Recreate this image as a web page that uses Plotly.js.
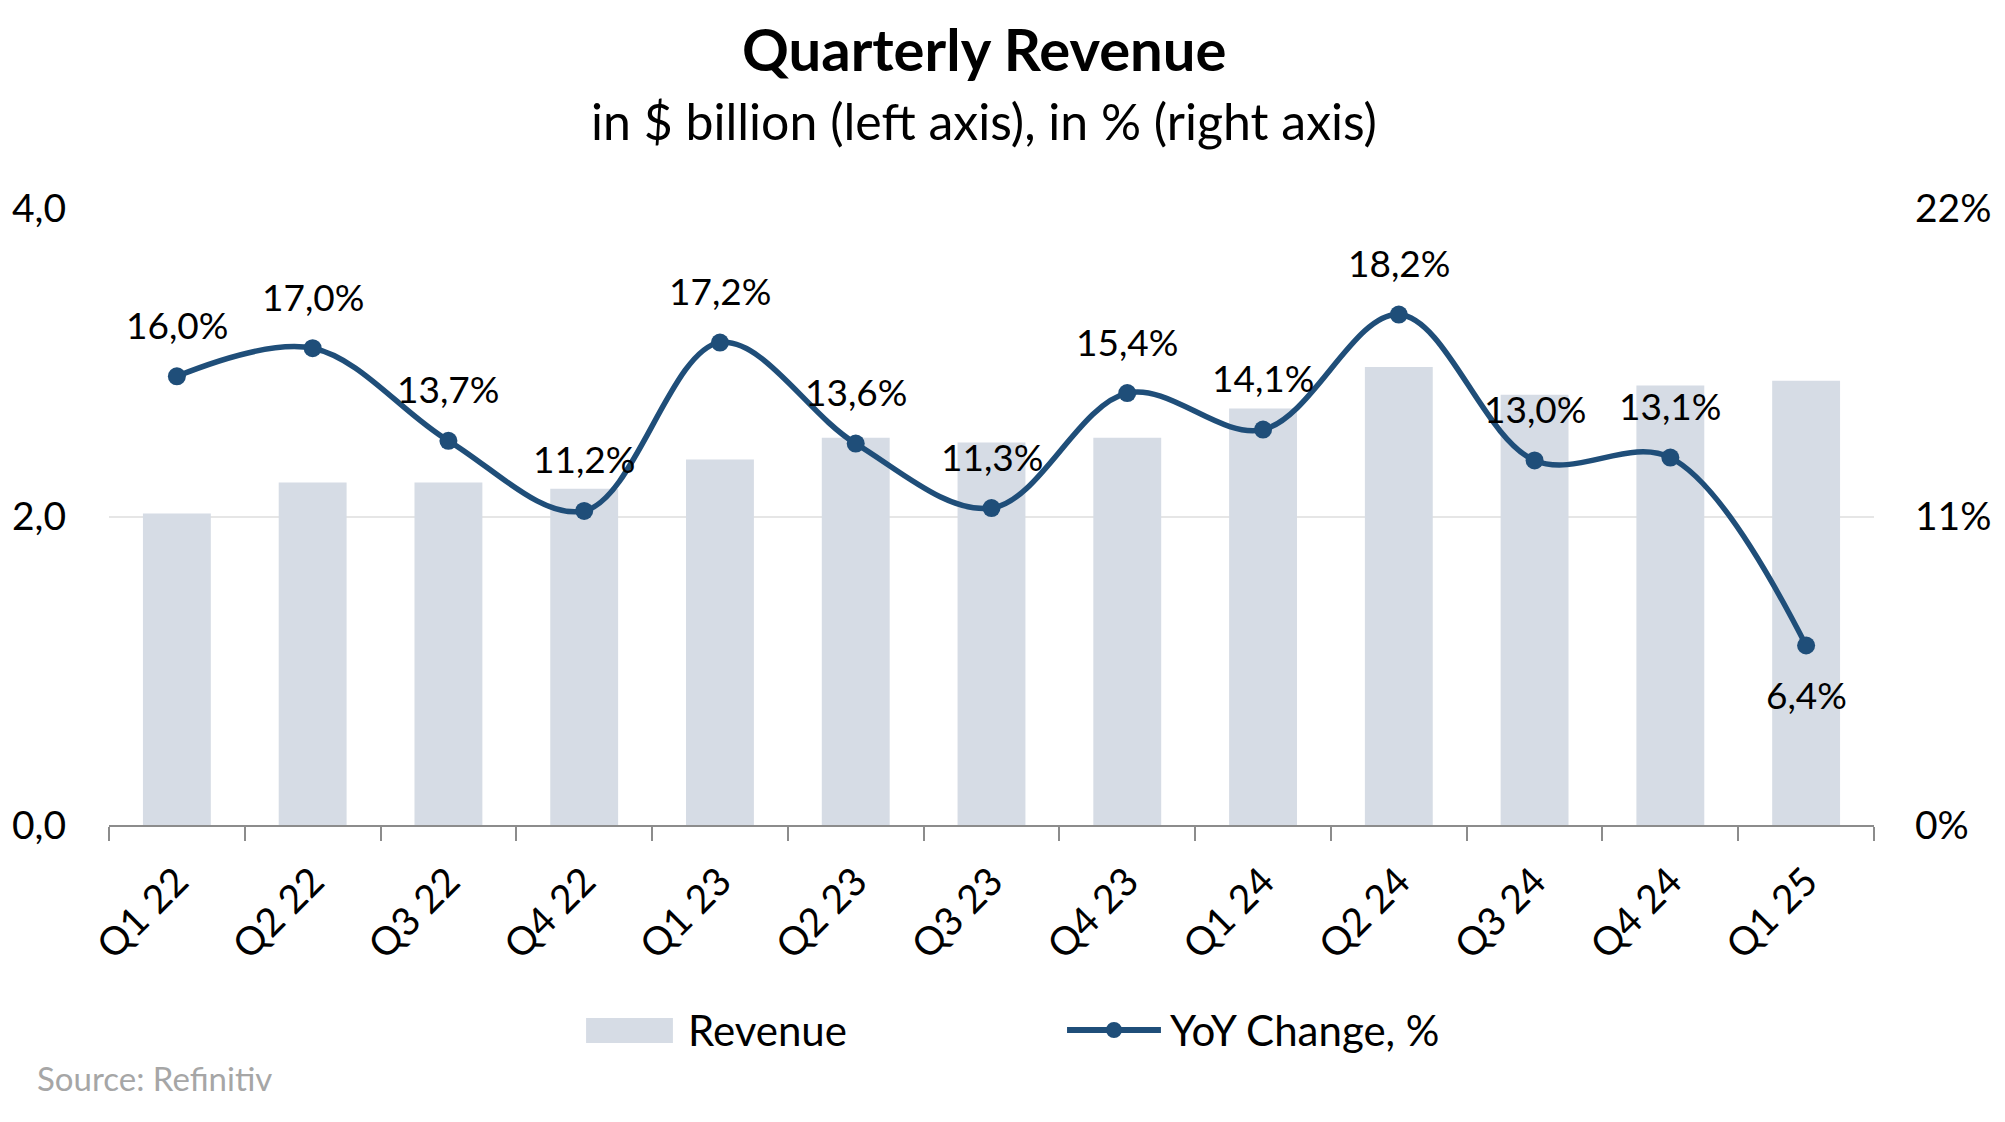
<!DOCTYPE html>
<html>
<head>
<meta charset="utf-8">
<script src="https://cdn.plot.ly/plotly-3.0.1.min.js"></script>
<style>
  html, body { margin: 0; padding: 0; background: #ffffff; }
  #chart { width: 2005px; height: 1122px; }
</style>
</head>
<body>
<div id="chart"></div>
<script>
// quarters on the x axis
var quarters = ['Q1 22', 'Q2 22', 'Q3 22', 'Q4 22', 'Q1 23', 'Q2 23', 'Q3 23',
                'Q4 23', 'Q1 24', 'Q2 24', 'Q3 24', 'Q4 24', 'Q1 25'];

// revenue, $ billion (left axis)
var revenue = [2.02, 2.22, 2.22, 2.18, 2.37, 2.51, 2.48, 2.51, 2.70, 2.97, 2.79, 2.85, 2.88];

// yoy change, % (right axis)
var yoy = [16.0, 17.0, 13.7, 11.2, 17.2, 13.6, 11.3, 15.4, 14.1, 18.2, 13.0, 13.1, 6.4];

// labels below the point instead of above
var labelBelow = [false, false, false, false, false, false, false, false, false, false, false, false, true];

var leftTicks = [0, 2, 4];
var rightTicks = [0, 11, 22];
var rightTickText = ['0%', '11%', '22%'];

var FONT = 'Lato, "Open Sans", sans-serif';
var BAR_COLOR = '#d6dce5';
var LINE_COLOR = '#1f4e79';

var trace1 = {
    x: quarters,
    y: revenue,
    type: 'bar',
    name: 'Revenue',
    marker: { color: BAR_COLOR },
    width: 0.5,
    hoverinfo: 'x+y'
};

var trace2 = {
    x: quarters,
    y: yoy,
    type: 'scatter',
    mode: 'lines+markers',
    name: 'YoY Change, %',
    yaxis: 'y2',
    line: { color: LINE_COLOR, width: 5.5, shape: 'spline', smoothing: 1 },
    marker: { color: LINE_COLOR, size: 18 },
    hoverinfo: 'x+y'
};

// data labels for the line
var annotations = [];
for (let i = 0; i < quarters.length; i++) {
    annotations.push({
        x: quarters[i],
        y: yoy[i],
        xref: 'x',
        yref: 'y2',
        text: yoy[i].toFixed(1).replace('.', ',') + '%',
        showarrow: false,
        yshift: labelBelow[i] ? -49 : 52,
        font: { family: FONT, size: 37, color: '#000000' }
    });
}

// title, subtitle, legend texts, source
annotations.push({
    xref: 'paper', yref: 'paper', x: 0.496, y: 1.258, yanchor: 'middle',
    text: '<b>Quarterly Revenue</b>', showarrow: false,
    font: { family: FONT, size: 58, color: '#000000' }
});
annotations.push({
    xref: 'paper', yref: 'paper', x: 0.496, y: 1.141, yanchor: 'middle',
    text: 'in $ billion (left axis), in % (right axis)', showarrow: false,
    font: { family: FONT, size: 50, color: '#000000' }
});
annotations.push({
    xref: 'paper', yref: 'paper', x: 0.3269, y: -0.3323, xanchor: 'left', yanchor: 'middle',
    text: 'Revenue', showarrow: false,
    font: { family: FONT, size: 42, color: '#000000' }
});
annotations.push({
    xref: 'paper', yref: 'paper', x: 0.6000, y: -0.3323, xanchor: 'left', yanchor: 'middle',
    text: 'YoY Change, %', showarrow: false,
    font: { family: FONT, size: 42, color: '#000000' }
});
annotations.push({
    xref: 'paper', yref: 'paper', x: -0.0419, y: -0.410, xanchor: 'left', yanchor: 'middle',
    text: 'Source: Refinitiv', showarrow: false,
    font: { family: FONT, size: 33, color: '#a6a6a6' }
});

// hand made legend keys
var shapes = [
    {
        type: 'rect', xref: 'paper', yref: 'paper',
        x0: 0.2703, x1: 0.3195, y0: -0.3533, y1: -0.3128,
        fillcolor: BAR_COLOR, line: { width: 0 }
    },
    {
        type: 'line', xref: 'paper', yref: 'paper',
        x0: 0.5428, x1: 0.5960, y0: -0.3323, y1: -0.3323,
        line: { color: LINE_COLOR, width: 6 }
    },
    {
        type: 'circle', xref: 'paper', yref: 'paper',
        xsizemode: 'pixel', ysizemode: 'pixel',
        xanchor: 0.5694, yanchor: -0.3323,
        x0: -8, x1: 8, y0: -8, y1: 8,
        fillcolor: LINE_COLOR, line: { width: 0 }
    }
];

var layout = {
    width: 2005,
    height: 1122,
    margin: { l: 109, r: 131, t: 208, b: 297 },
    paper_bgcolor: '#ffffff',
    plot_bgcolor: '#ffffff',
    separators: ', ',
    showlegend: false,
    font: { family: FONT, color: '#000000' },
    xaxis: {
        type: 'category',
        range: [-0.5, quarters.length - 0.5],
        tickangle: -45,
        ticks: 'outside',
        tickson: 'boundaries',
        ticklen: 14,
        tickwidth: 2,
        tickcolor: '#8c8c8c',
        ticklabelstandoff: 16,
        showline: true,
        linecolor: '#8c8c8c',
        linewidth: 2,
        showgrid: false,
        tickfont: { family: FONT, size: 39, color: '#000000' },
        fixedrange: true
    },
    yaxis: {
        range: [0, 4],
        tickvals: leftTicks,
        tickformat: '.1f',
        showgrid: true,
        gridcolor: '#e6e6e6',
        gridwidth: 2,
        zeroline: false,
        showline: false,
        ticks: '',
        ticklabelstandoff: 42,
        tickfont: { family: FONT, size: 39, color: '#000000' },
        fixedrange: true
    },
    yaxis2: {
        overlaying: 'y',
        side: 'right',
        range: [0, 22],
        tickvals: rightTicks,
        ticktext: rightTickText,
        showgrid: false,
        zeroline: false,
        showline: false,
        ticks: '',
        ticklabelstandoff: 40,
        tickfont: { family: FONT, size: 39, color: '#000000' },
        fixedrange: true
    },
    bargap: 0.5,
    annotations: annotations,
    shapes: shapes
};

Plotly.newPlot('chart', [trace1, trace2], layout, { displayModeBar: false, staticPlot: true });
</script>
</body>
</html>
